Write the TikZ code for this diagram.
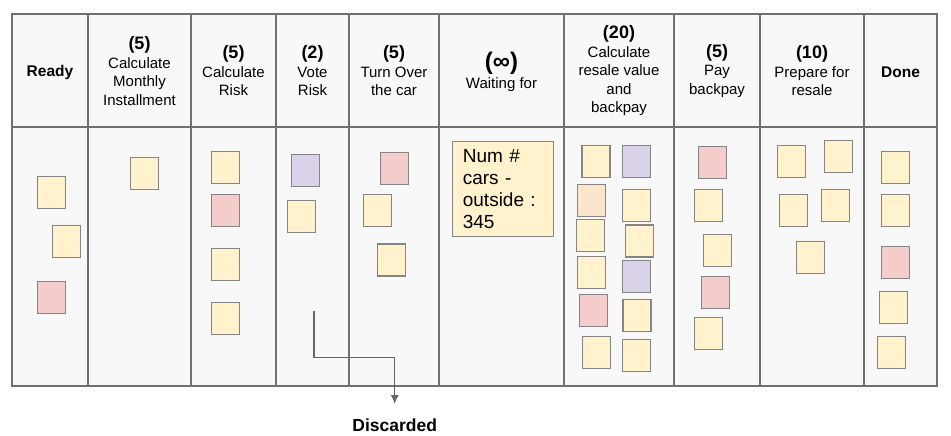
\documentclass[tikz,border=0pt]{standalone}
\usepackage{fontspec}
\setmainfont{Liberation Sans}
\usetikzlibrary{arrows.meta}
\definecolor{ynote}{HTML}{FFF2CC}
\definecolor{pnote}{HTML}{F4CCCC}
\definecolor{vnote}{HTML}{D9D2E9}
\definecolor{onote}{HTML}{FCE5CD}
\definecolor{tablebg}{HTML}{F8F8F8}
\definecolor{gridline}{HTML}{707070}
\definecolor{noteline}{HTML}{858585}
\definecolor{arrowline}{HTML}{666666}
\newcommand\hnum[1]{{\fontsize{18}{19}\selectfont\bfseries #1}}
\begin{document}
\begin{tikzpicture}[x=1pt,y=-1pt,
  grid/.style={draw=gridline,line width=1.2pt},
  sn/.style={draw=noteline,line width=1.1pt,minimum width=28pt,minimum height=32pt,inner sep=0pt,fill=ynote},
  hdr/.style={align=center,font=\fontsize{15}{18.5}\selectfont,inner sep=0pt},
  hdrb/.style={font=\fontsize{15.5}{18}\selectfont\bfseries,inner sep=0pt},
  conn/.style={draw=arrowline,line width=1.3pt,-{Latex[length=9pt,width=8pt]}}]
\useasboundingbox (0,0) rectangle (951,436);
% table
\fill[tablebg] (12,14) rectangle (937,386);
\draw[grid] (12,14) rectangle (937,386);
\draw[grid] (12,127) -- (937,127);
\foreach \xx in {88,191,276,349,439,564,674,760,864}
  \draw[grid] (\xx,14) -- (\xx,386);
% headers
\node[hdrb] (h1) at (50,72) {Ready};
\node[hdr] (h2) at (139.5,71) {\hnum{(5)}\\Calculate\\Monthly\\Installment};
\node[hdr] (h3) at (233.5,71) {\hnum{(5)}\\Calculate\\Risk};
\node[hdr] (h4) at (312.5,71) {\hnum{(2)}\\Vote\\Risk};
\node[hdr] (h5) at (394,71) {\hnum{(5)}\\Turn Over\\the car};
\node[hdr] (h6) at (501.5,72) {{\fontsize{24}{22}\selectfont\bfseries (∞)}\\Waiting for};
\node[hdr] (h7) at (619,71) {\hnum{(20)}\\Calculate\\resale value\\and\\backpay};
\node[hdr] (h8) at (717,71) {\hnum{(5)}\\Pay\\backpay};
\node[hdr] (h9) at (812,71) {\hnum{(10)}\\Prepare for\\resale};
\node[hdrb] (h10) at (900.5,72) {Done};
% sticky notes
\foreach \n/\x/\y/\c in {
  r1/51.7/192.2/ynote, r2/66.3/241.8/ynote, r3/51.7/297.8/pnote,
  m1/144.3/173.3/ynote,
  c1/225.7/167.3/ynote, c2/225.7/210.7/pnote, c3/225.7/264.5/ynote, c4/225.7/318.2/ynote,
  v1/305.2/170.8/vnote, v2/301.5/216.7/ynote,
  t1/394.5/168.5/pnote, t2/377.5/210.7/ynote, t3/391.8/260/ynote,
  a1/596/161.5/ynote, a2/591.7/200.5/onote, a3/590.3/235.7/ynote, a4/591.5/272.8/ynote, a5/593.5/310.2/pnote, a6/596.2/352.2/ynote,
  b1/636.2/161.5/vnote, b2/636.7/205.5/ynote, b3/639.2/241/ynote, b4/636.7/276.5/vnote, b5/637/315.8/ynote, b6/636.2/355.2/ynote,
  p1/712.2/162.5/pnote, p2/708.5/205.5/ynote, p3/717.2/250.8/ynote, p4/715.2/292.2/pnote, p5/708.5/333.8/ynote,
  q1/791.2/161.5/ynote, q2/838.5/156.8/ynote, q3/793.5/210.8/ynote, q4/835.8/205.5/ynote, q5/810.8/257.2/ynote,
  d1/895.8/167.5/ynote, d2/895.8/210.8/ynote, d3/895.8/262.5/pnote, d4/893.2/307.2/ynote, d5/891.5/352.2/ynote}
  \node[sn,fill=\c] (\n) at (\x,\y) {};
% big note
\node[draw=noteline,line width=1.1pt,fill=ynote,anchor=north west,minimum width=101pt,minimum height=95.6pt,
  text width=80pt,align=left,inner xsep=10.6pt,inner ysep=0pt,font=\fontsize{19}{22}\selectfont]
  (wait) at (451.7,140.7) {Num \#\\cars -\\outside :\\345};
% discarded
\node[font=\fontsize{17.5}{20}\selectfont\bfseries,inner sep=0pt,anchor=north] (disc) at (394.7,419) {Discarded};
\coordinate (dstart) at (314,310.7);
\coordinate (dturn) at (394.7,357.3);
\draw[conn,shorten >=15pt] (dstart) |- (dturn) -- (disc.north);
\end{tikzpicture}
\end{document}
